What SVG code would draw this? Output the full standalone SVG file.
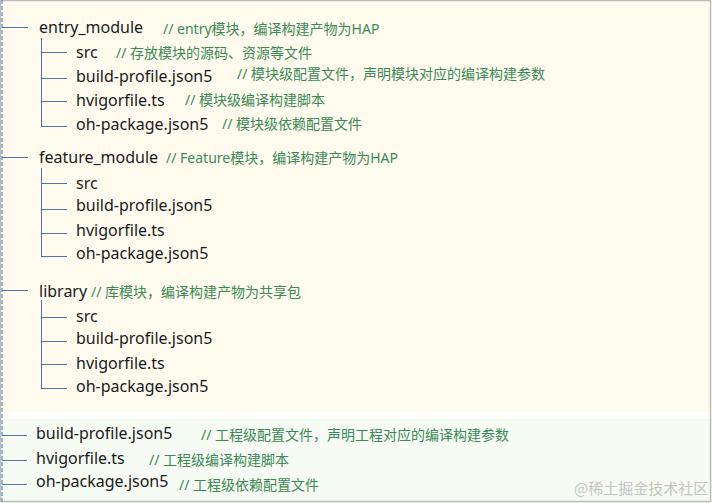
<svg xmlns="http://www.w3.org/2000/svg" width="712" height="503" viewBox="0 0 712 503">
<style>
.n{font-family:"Noto Sans","Noto Sans CJK SC",sans-serif;font-size:16px;fill:#1a1a1a}
.c{font-family:"Noto Sans","Noto Sans CJK SC",sans-serif;font-size:14px;fill:#3a8a55}
.ln{stroke:#4d74ad;stroke-width:1;fill:none}
.wm{font-family:"Noto Sans CJK SC",sans-serif;font-size:15px;fill:#c4c4c4}
</style>
<rect x="0" y="0" width="712" height="503" fill="#ffffff"/>
<rect x="0" y="0" width="712" height="412" fill="#fffbef"/>
<rect x="0" y="419" width="712" height="84" fill="#f6fbf4"/>
<rect x="0.5" y="0.5" width="710" height="501" fill="none" stroke="#bdbdbd" stroke-width="1.5"/>
<g id="connectors">
<line class="ln" x1="2" y1="0" x2="2" y2="503" stroke-dasharray="4,2"/>
<line class="ln" x1="2" y1="27.5" x2="28" y2="27.5"/>
<line class="ln" x1="41.5" y1="38" x2="41.5" y2="126.5"/>
<line class="ln" x1="41" y1="52.5" x2="67" y2="52.5"/>
<line class="ln" x1="41" y1="78.5" x2="67" y2="78.5"/>
<line class="ln" x1="41" y1="101.5" x2="67" y2="101.5"/>
<line class="ln" x1="41" y1="126.5" x2="67" y2="126.5"/>
<line class="ln" x1="2" y1="157.5" x2="28" y2="157.5"/>
<line class="ln" x1="41.5" y1="168" x2="41.5" y2="256.5"/>
<line class="ln" x1="41" y1="183.5" x2="67" y2="183.5"/>
<line class="ln" x1="41" y1="209.5" x2="67" y2="209.5"/>
<line class="ln" x1="41" y1="233.5" x2="67" y2="233.5"/>
<line class="ln" x1="41" y1="256.5" x2="67" y2="256.5"/>
<line class="ln" x1="2" y1="290.5" x2="28" y2="290.5"/>
<line class="ln" x1="41.5" y1="300" x2="41.5" y2="388.5"/>
<line class="ln" x1="41" y1="317.5" x2="67" y2="317.5"/>
<line class="ln" x1="41" y1="341.5" x2="67" y2="341.5"/>
<line class="ln" x1="41" y1="364.5" x2="67" y2="364.5"/>
<line class="ln" x1="41" y1="388.5" x2="67" y2="388.5"/>
<line class="ln" x1="2" y1="435.5" x2="27" y2="435.5"/>
<line class="ln" x1="2" y1="460.5" x2="27" y2="460.5"/>
<line class="ln" x1="2" y1="484.5" x2="27" y2="484.5"/>
</g>
<g id="entry_module">
<text class="n" x="39" y="33">entry_module</text>
<text class="c" x="163" y="34">// entry模块，编译构建产物为HAP</text>
</g>
<g id="entry_src"><text class="n" x="76" y="58">src</text><text class="c" x="116" y="58">// 存放模块的源码、资源等文件</text></g>
<g id="entry_build_profile"><text class="n" x="76" y="82">build-profile.json5</text><text class="c" x="237" y="79">// 模块级配置文件，声明模块对应的编译构建参数</text></g>
<g id="entry_hvigorfile"><text class="n" x="76" y="106">hvigorfile.ts</text><text class="c" x="185" y="105">// 模块级编译构建脚本</text></g>
<g id="entry_oh_package"><text class="n" x="76" y="130">oh-package.json5</text><text class="c" x="222" y="129">// 模块级依赖配置文件</text></g>
<g id="feature_module">
<text class="n" x="39" y="163">feature_module</text>
<text class="c" x="166" y="163">// Feature模块，编译构建产物为HAP</text>
</g>
<g id="feature_src"><text class="n" x="76" y="189">src</text></g>
<g id="feature_build_profile"><text class="n" x="76" y="211">build-profile.json5</text></g>
<g id="feature_hvigorfile"><text class="n" x="76" y="236">hvigorfile.ts</text></g>
<g id="feature_oh_package"><text class="n" x="76" y="259">oh-package.json5</text></g>
<g id="library">
<text class="n" x="39" y="297">library</text>
<text class="c" x="91" y="297">// 库模块，编译构建产物为共享包</text>
</g>
<g id="library_src"><text class="n" x="76" y="322">src</text></g>
<g id="library_build_profile"><text class="n" x="76" y="344">build-profile.json5</text></g>
<g id="library_hvigorfile"><text class="n" x="76" y="369">hvigorfile.ts</text></g>
<g id="library_oh_package"><text class="n" x="76" y="392">oh-package.json5</text></g>
<g id="root_build_profile"><text class="n" x="36" y="439">build-profile.json5</text><text class="c" x="201" y="440">// 工程级配置文件，声明工程对应的编译构建参数</text></g>
<g id="root_hvigorfile"><text class="n" x="36" y="464">hvigorfile.ts</text><text class="c" x="149" y="465">// 工程级编译构建脚本</text></g>
<g id="root_oh_package"><text class="n" x="36" y="487">oh-package.json5</text><text class="c" x="179" y="490">// 工程级依赖配置文件</text></g>
<text class="wm" x="574" y="494">@稀土掘金技术社区</text>
</svg>
